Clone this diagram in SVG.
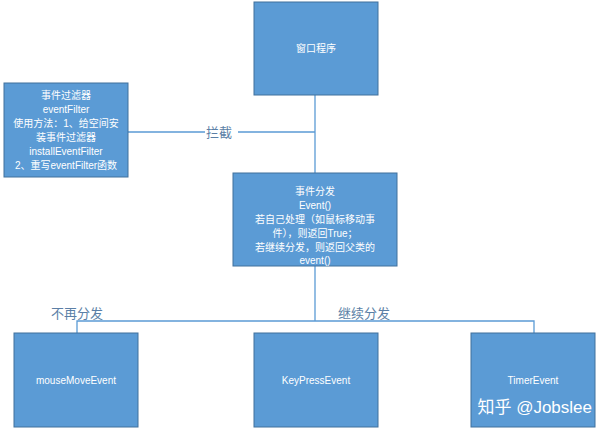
<svg xmlns="http://www.w3.org/2000/svg" width="600" height="433" viewBox="0 0 600 433">
<style>
.b{fill:#5b9bd5;stroke:#41719c;stroke-width:1}
.t{font-family:"Liberation Sans","Noto Sans CJK SC",sans-serif;font-size:10px;fill:#fff;text-anchor:middle}
.l{font-family:"Liberation Sans","Noto Sans CJK SC",sans-serif;font-size:13px;fill:#5b7fa6}
.c{stroke:#5b9bd5;stroke-width:1.3;fill:none}
</style>
<rect width="600" height="433" fill="#fff"/>
<g id="connectors">
<path class="c" d="M315 95V173M315 266V321M128 132H205M238 132H315M77 333V321H534V333"/>
<text class="l" x="206" y="137" font-size="14">拦截</text>
<text class="l" x="51" y="318">不再分发</text>
<text class="l" x="338" y="318">继续分发</text>
</g>
<g id="win"><rect class="b" x="254" y="2" width="124" height="93"/><text class="t" x="316" y="52">窗口程序</text></g>
<g id="filter"><rect class="b" x="4" y="83" width="124" height="94"/>
<text class="t"><tspan x="66" y="99">事件过滤器</tspan><tspan x="66" y="113">eventFilter</tspan><tspan x="66" y="127">使用方法：1、给空间安</tspan><tspan x="66" y="141">装事件过滤器</tspan><tspan x="66" y="155">installEventFilter</tspan><tspan x="66" y="169">2、重写eventFilter函数</tspan></text></g>
<g id="dispatch"><rect class="b" x="233" y="173" width="164" height="93"/>
<text class="t"><tspan x="315" y="195">事件分发</tspan><tspan x="315" y="209">Event()</tspan><tspan x="315" y="223">若自己处理（如鼠标移动事</tspan><tspan x="315" y="237">件），则返回True；</tspan><tspan x="315" y="251">若继续分发，则返回父类的</tspan><tspan x="315" y="264">event()</tspan></text></g>
<g id="mouse"><rect class="b" x="14" y="333" width="124" height="94"/><text class="t" x="76" y="384">mouseMoveEvent</text></g>
<g id="key"><rect class="b" x="254" y="333" width="124" height="94"/><text class="t" x="316" y="384">KeyPressEvent</text></g>
<g id="timer"><rect class="b" x="471" y="333" width="124" height="94"/><text class="t" x="533" y="384">TimerEvent</text>
<text x="592" y="413" font-family="Liberation Sans,Noto Sans CJK SC,sans-serif" font-size="17" fill="#fff" text-anchor="end">知乎 @Jobslee</text></g>
</svg>
